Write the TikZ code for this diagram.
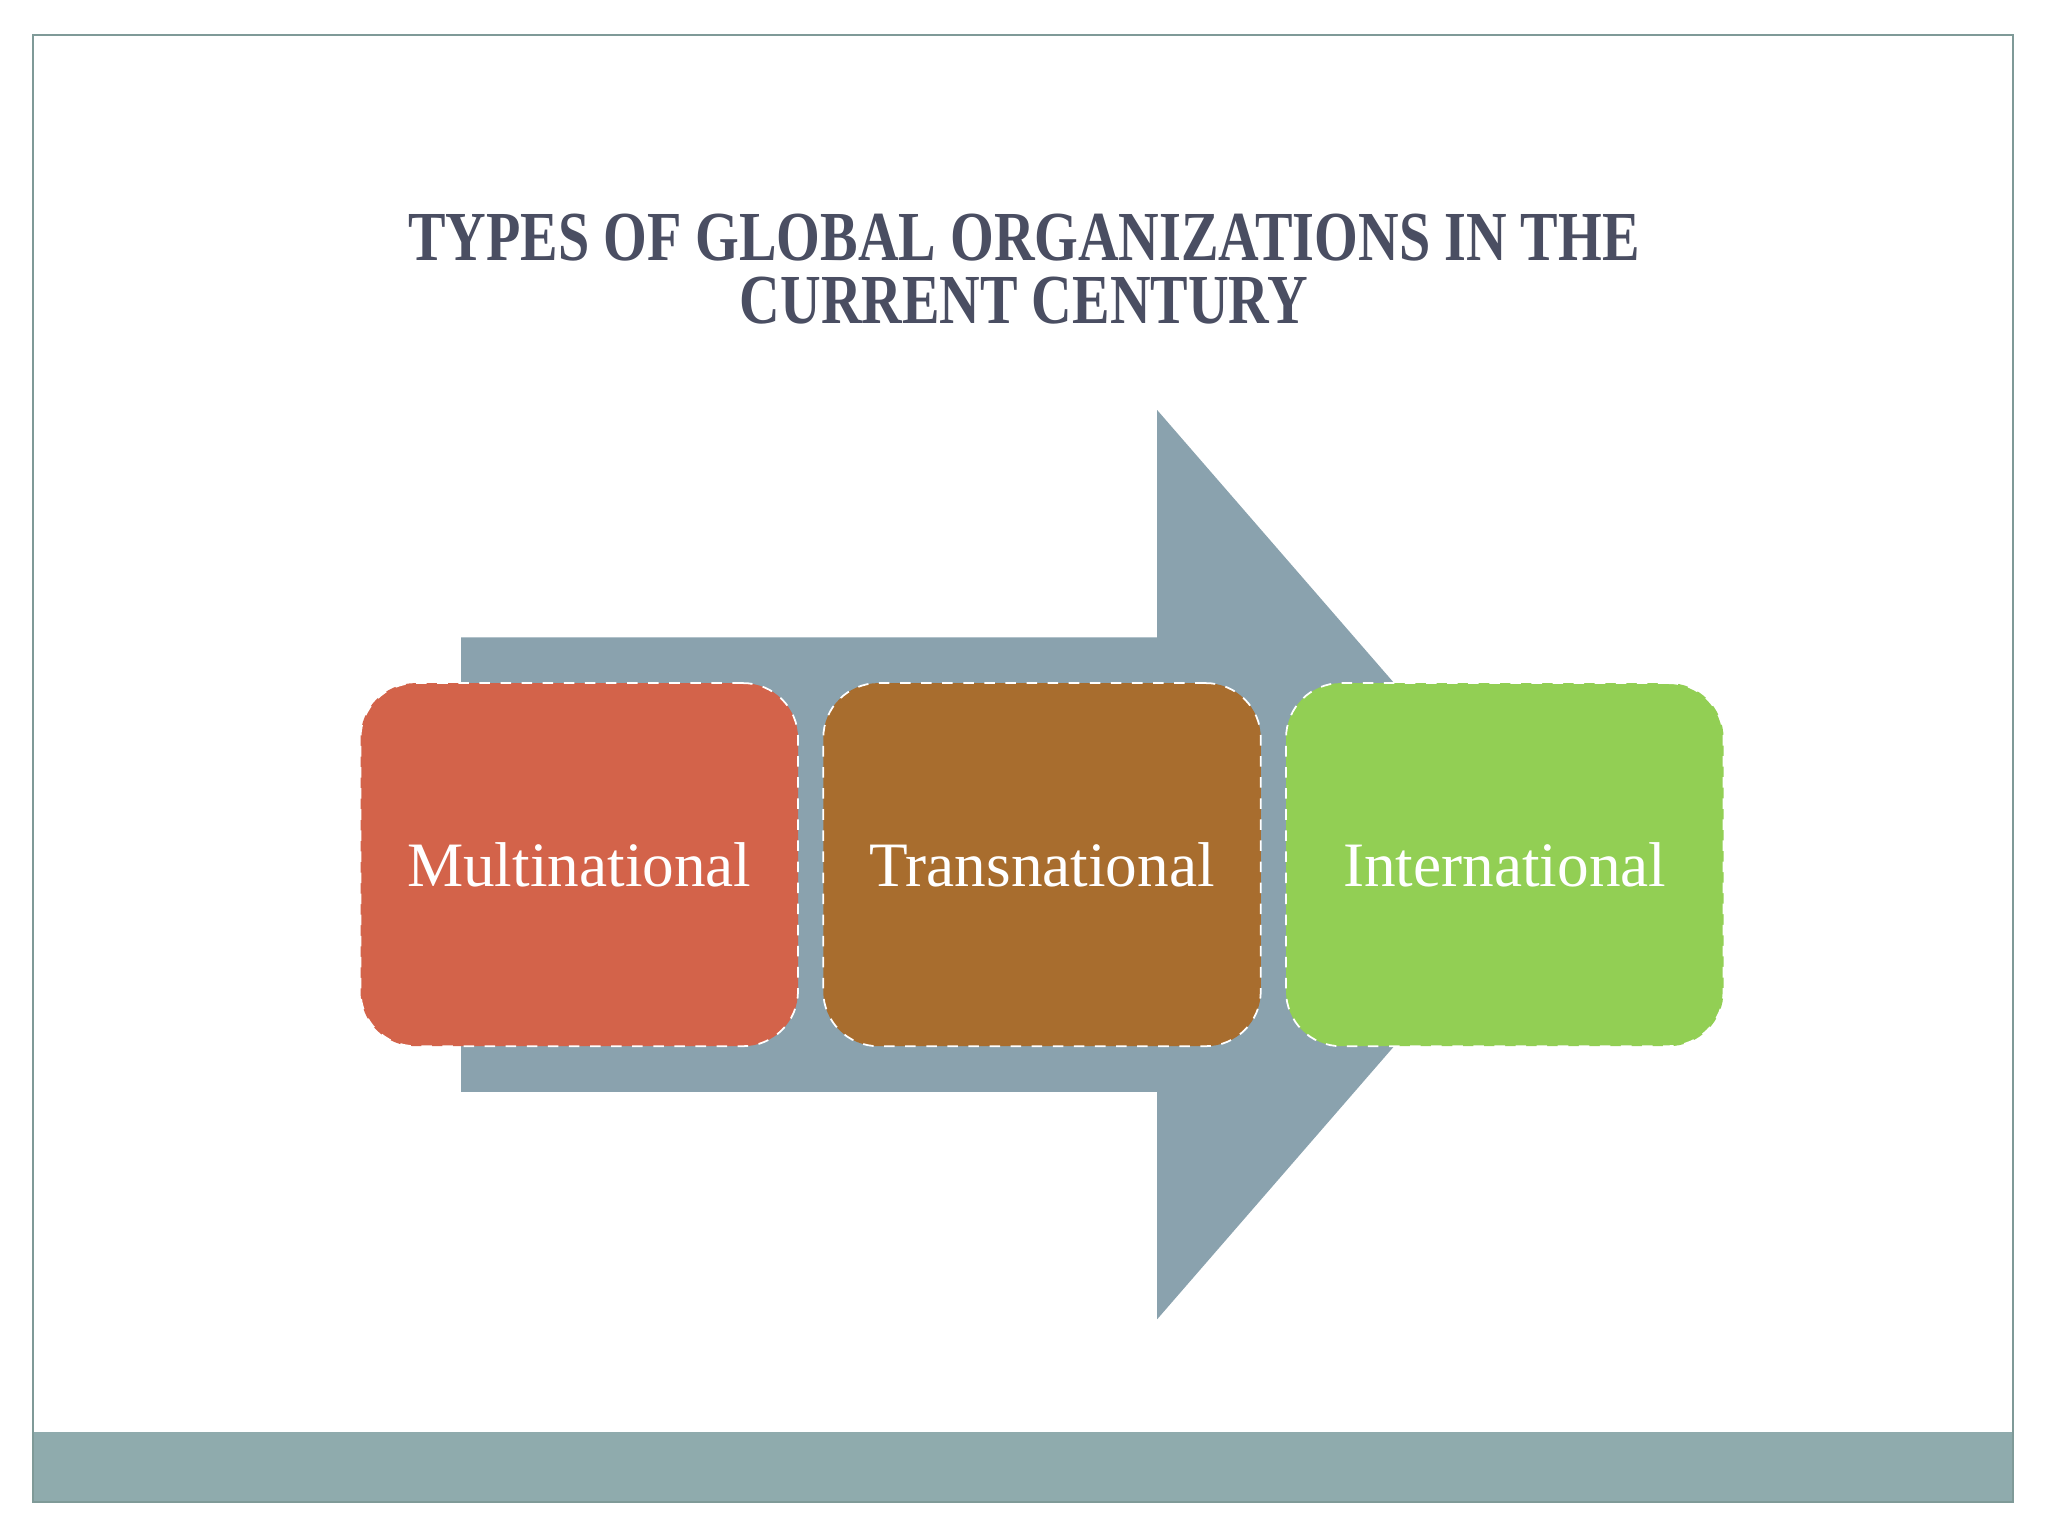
\documentclass[tikz,border=0pt]{standalone}
\usepackage{fontspec}
\setmainfont{Liberation Serif}
\newfontfamily\titlefont[FakeStretch=0.8]{Liberation Serif}
\usetikzlibrary{positioning}
\definecolor{titlegray}{HTML}{4A4E62}
\definecolor{arrowgray}{HTML}{8AA2AE}
\definecolor{bargray}{HTML}{8FABAD}
\definecolor{framegray}{HTML}{7F9A98}
\definecolor{multired}{HTML}{D3634A}
\definecolor{transbrown}{HTML}{A86D2E}
\definecolor{intgreen}{HTML}{92CF54}
\tikzset{
  orgbox/.style={draw=white,dashed,line width=.5pt,rounded corners=.55cm,
    minimum width=4.375cm,minimum height=3.631cm,inner sep=0pt,
    text=white,font=\fontsize{18}{20}\selectfont}
}
\begin{document}
\begin{tikzpicture}[x=0.0130612cm,y=-0.0130612cm]
        \useasboundingbox(0,0)rectangle(1568,1176);
        \fill[white](0,0)rectangle(1568,1176);
        \fill[bargray](25,1096)rectangle(1541,1150);
        \draw[framegray,line width=.6pt](25,27)rectangle(1541,1150);
        \node[titlegray,align=center,font=\titlefont\bfseries\fontsize{20}{18.2}\selectfont](title)at(784,206){TYPES OF GLOBAL ORGANIZATIONS IN THE\\CURRENT CENTURY};
        \fill[arrowgray](353,488)--(886,488)--(886,314)--(1188,662)--(886,1010)--(886,836)--(353,836)--cycle;
        \node[orgbox,fill=multired](multi)at(443.5,662){Multinational};
        \node[orgbox,fill=transbrown,right=0.235cm of multi](trans){Transnational};
        \node[orgbox,fill=intgreen,right=0.235cm of trans](inter){International};
\end{tikzpicture}
\end{document}
